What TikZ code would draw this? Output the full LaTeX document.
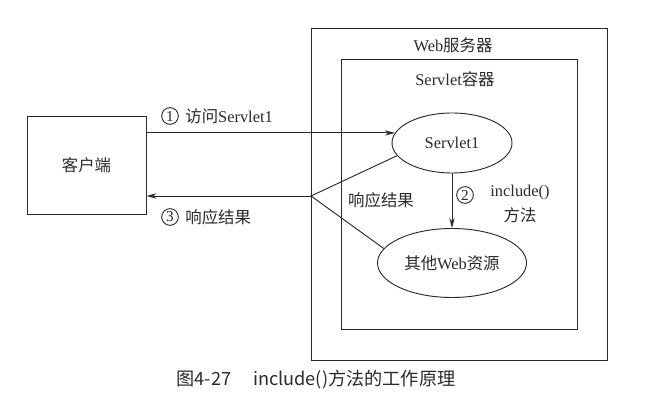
\documentclass[tikz,border=0pt]{standalone}
\usepackage{fontspec}
\setmainfont{Liberation Serif}
\newfontfamily\cjk{Noto Sans CJK SC}
\usetikzlibrary{arrows.meta,shapes.geometric}

\definecolor{ink}{HTML}{2A2A2A}
\tikzset{
  every node/.style={font=\fontsize{14}{16}\selectfont,text=ink},
  numc/.style={draw=ink,circle,inner sep=0pt,minimum size=0.5cm,font=\fontsize{13}{14}\selectfont},
  blob/.style={draw=ink,ellipse,inner sep=0pt}
}

\begin{document}
\begin{tikzpicture}[x=0.03cm,y=-0.03cm,line width=0.8pt,draw=ink,
  >={Stealth[length=3mm,width=1.6mm]}]
\useasboundingbox (0,0) rectangle (654,405);

% server and container
\draw (311,28) rectangle (607,360);
\node (web) at (453,45) {Web{\cjk 服务器}};
\draw (341,59) rectangle (577,329);
\node (cont) at (455,79) {Servlet{\cjk 容器}};

\node[draw=ink,minimum width=3.57cm,minimum height=2.94cm] (client) at (86.5,165) {\cjk 客户端};
\node[blob,minimum width=3.6cm,minimum height=1.8cm] (s1) at (452,143) {Servlet1};
\node[blob,minimum width=4.47cm,minimum height=2.07cm] (res) at (452,263) {{\cjk 其他}Web{\cjk 资源}};

% request
\draw[->] (client.east |- s1.170) -- (s1.170);
\node[numc] (n1) at (170,116) {1};
\node[anchor=west] (l1) at (181,116) {{\cjk 访问}Servlet1};

% include
\draw[->] (s1.south) -- (res.north);
\node[numc] (n2) at (465,195) {2};
\node (l2) at (520,193) {include()};
\node (l2b) at (520,215) {\cjk 方法};

% response
\coordinate (j) at (311,196);
\draw (s1.193) -- (j) -- (res.168);
\draw[->] (j) -- (client.east |- j);
\node (l3a) at (381,200) {\cjk 响应结果};
\node[numc] (n3) at (170,217) {3};
\node[anchor=west] (l3) at (181,217) {\cjk 响应结果};

\node[font=\cjk\fontsize{15.5}{17}\selectfont] (cap) at (316,380) {图4-27\hspace{1.2em}include()方法的工作原理};
\end{tikzpicture}
\end{document}
